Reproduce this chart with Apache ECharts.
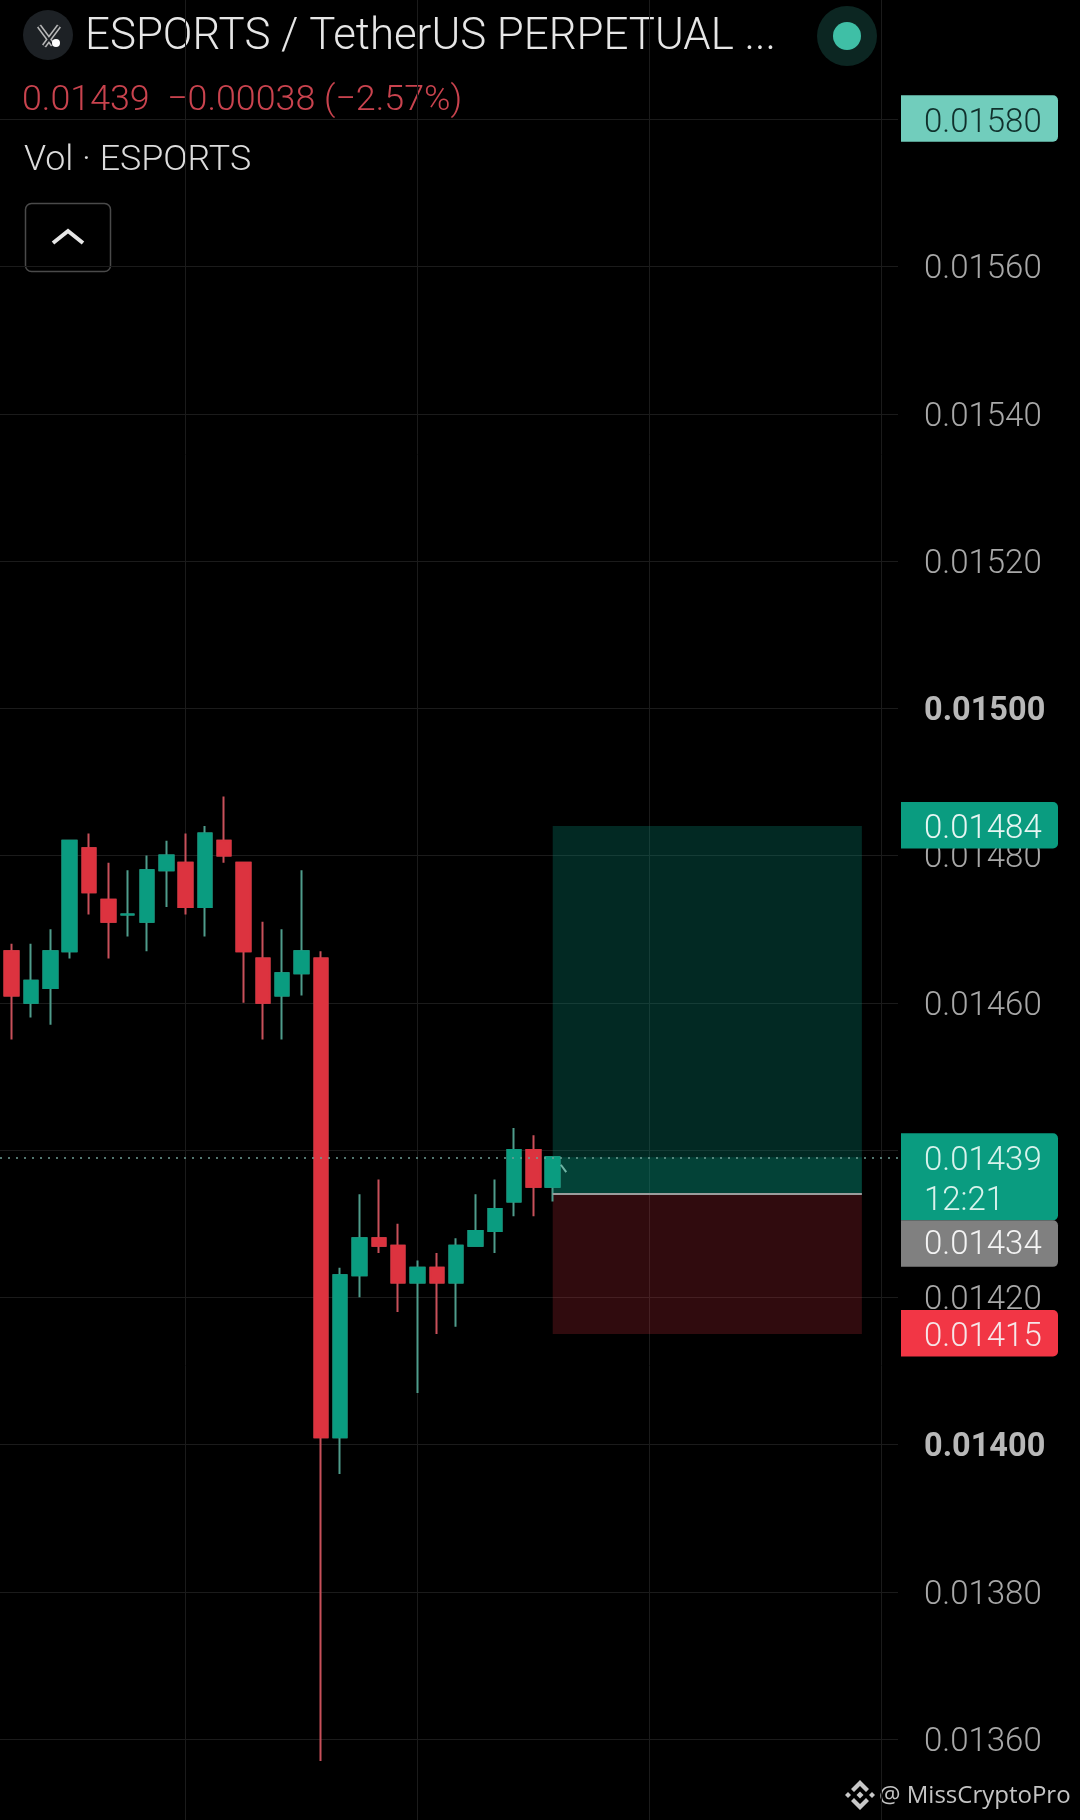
<!DOCTYPE html>
<html><head><meta charset="utf-8">
<style>html,body{margin:0;padding:0;background:#000}#c{width:1080px;height:1820px}</style>
<script src="https://cdn.jsdelivr.net/npm/echarts@6/dist/echarts.min.js"></script>
</head><body><div id="c"></div>
<script>
// Candles
const opens  = [0.01467,0.01460,0.01462,0.01467,0.01481,0.01474,0.01472,0.01471,0.01478,0.01479,0.01473,0.01482,0.01479,0.01466,0.01461,0.01464,0.01466,0.01401,0.01423,0.01428,0.01427,0.01422,0.01424,0.01422,0.01427,0.01429,0.01433,0.01440,0.01435];
const closes = [0.01461,0.01463,0.01467,0.01482,0.01475,0.01471,0.01472,0.01478,0.01480,0.01473,0.01483,0.01480,0.01467,0.01460,0.01464,0.01467,0.01401,0.01423,0.01428,0.01427,0.01422,0.01424,0.01422,0.01427,0.01429,0.01432,0.01440,0.01435,0.01439];
const lows   = [0.01455,0.01458,0.01457,0.01466,0.01472,0.01466,0.01469,0.01467,0.01473,0.01472,0.01469,0.01479,0.01460,0.01455,0.01455,0.01461,0.01357,0.01396,0.01420,0.01426,0.01418,0.01407,0.01415,0.01416,0.01427,0.01426,0.01431,0.01431,0.01433];
const highs  = [0.01468,0.01468,0.01470,0.01482,0.01483,0.01479,0.01478,0.01480,0.01482,0.01483,0.01484,0.01488,0.01479,0.01471,0.01470,0.01478,0.01467,0.01424,0.01434,0.01436,0.01430,0.01425,0.01426,0.01428,0.01434,0.01436,0.01443,0.01442,0.01439];

// Position tool
const zoneFrom = 28, zoneTo = 44;
const zoneLows  = [0.01434,0.01434,0.01415];
const zoneHighs = [0.01484,0.01439,0.01434];
const zoneFills = ['rgba(8,153,129,0.27)','rgba(8,153,129,0.22)','rgba(242,54,69,0.20)'];
const entryPrice = 0.01434, lastPrice = 0.01439;

// Price badges
const badgePrices = [0.01580,0.01484,0.01439,0.01434,0.01415];
const badgeTexts  = ['0.01580','0.01484','0.01439','0.01434','0.01415'];
const badgeSub    = ['','','12:21','',''];
const badgeFills  = ['#71cdbc','#0a9c80','#0a9c80','#808080','#f23645'];
const badgeInk    = ['#10302c','#e8f6f3','#d8f3ec','#f4f4f4','#f6e6e8'];

// Axis
const xMin = -0.6056, xMax = 45.87;
const yMin = 0.0134, yMax = 0.016, yStep = 0.0002;
const gridColumns = [9,21,33,45];
const UP = '#0a9c80', DOWN = '#dc333f', UP_WICK = '#4f9c8b', DOWN_WICK = '#c8505a', GRID = '#1b1b1b';

const wickRows = opens.map((o,i)=>[i,o,closes[i],lows[i],highs[i]]);
const bodyRows = opens.map((o,i)=>[i,o,closes[i],Math.min(o,closes[i]),Math.max(o,closes[i])]);
const zoneRows = zoneLows.map((l,i)=>[zoneFrom,l,zoneTo,zoneHighs[i]]);
const badgeRows = badgePrices.map((p,i)=>[zoneTo,p]);

let lastBottom = 0;
function drawBadge(params, api){
  const i = params.dataIndex;
  const y = api.coord([api.value(0), api.value(1)])[1];
  const h = badgeSub[i] ? 87 : 46.5;
  const pushed = i>0 && y-24 < lastBottom;
  const top = pushed ? lastBottom : y-24;
  lastBottom = top+h;
  const textY = top + (pushed ? 25 : 28);
  const kids = [
    {type:'rect',shape:{x:901,y:top,width:157,height:h,r:[0,5,5,0]},style:{fill:badgeFills[i]}},
    {type:'text',style:{x:924,y:textY,text:badgeTexts[i],fill:badgeInk[i],font:'300 33px Roboto',align:'left',verticalAlign:'middle'}}
  ];
  if(badgeSub[i]) kids.push({type:'text',style:{x:924,y:top+68,text:badgeSub[i],fill:badgeInk[i],font:'300 33px Roboto',align:'left',verticalAlign:'middle'}});
  return {type:'group',children:kids};
}
function drawZone(params, api){
  const a = api.coord([api.value(0), api.value(3)]);
  const b = api.coord([api.value(2), api.value(1)]);
  return {type:'rect',shape:{x:a[0],y:a[1],width:b[0]-a[0],height:b[1]-a[1]},style:{fill:zoneFills[params.dataIndex]}};
}

const chart = echarts.init(document.getElementById('c'),null,{renderer:'canvas'});
const diamond = (cx,cy,r)=>[[cx,cy-r],[cx+r,cy],[cx,cy+r],[cx-r,cy]];
chart.setOption({
  animation:false,
  backgroundColor:'#000',
  grid:{left:0,top:-28,width:898,height:1914.25,containLabel:false,outerBoundsMode:'none'},
  xAxis:{type:'value',min:xMin,max:xMax,axisLine:{show:false},axisTick:{show:false},axisLabel:{show:false},splitLine:{show:false}},
  yAxis:{type:'value',position:'right',min:yMin,max:yMax,interval:yStep,
    axisLine:{show:false},axisTick:{show:false},
    splitLine:{show:true,lineStyle:{color:GRID,width:1}},
    axisLabel:{margin:26,
      formatter:v=>{const s=v.toFixed(5);return Math.round(v*1e5)%100===0?'{b|'+s+'}':'{n|'+s+'}';},
      rich:{n:{fontFamily:'Roboto',fontWeight:300,fontSize:33,color:'#a8a8a8',padding:[7,0,0,0]},b:{fontFamily:'Roboto',fontWeight:700,fontSize:32.5,color:'#b8b8b8',padding:[7,0,0,0]}}}},
  series:[
    {type:'custom',name:'zones',z:2,data:zoneRows,renderItem:drawZone,encode:{x:[0,2],y:[1,3]},silent:true,
      markLine:{silent:true,z:1,symbol:'none',label:{show:false},lineStyle:{color:GRID,width:1,type:'solid'},
        data:gridColumns.map(c=>({xAxis:c}))}},
    {type:'candlestick',name:'wicks',z:3,data:wickRows,encode:{x:0,y:[1,2,3,4]},barWidth:14,
      itemStyle:{color:UP_WICK,color0:DOWN_WICK,borderColor:UP_WICK,borderColor0:DOWN_WICK,borderWidth:2}},
    {type:'candlestick',name:'ESPORTS',z:3,data:bodyRows,encode:{x:0,y:[1,2,3,4]},barWidth:14,
      itemStyle:{color:UP,color0:DOWN,borderColor:UP,borderColor0:DOWN,borderWidth:2},
      markLine:{silent:true,z:4,symbol:'none',label:{show:false},
        data:[
          [{coord:[xMin,lastPrice],lineStyle:{color:'#6f9f95',width:1.6,type:[2,6]}},{coord:[xMax,lastPrice]}],
          [{coord:[zoneFrom,entryPrice],lineStyle:{color:'#9c9c9c',width:2,type:'solid'}},{coord:[zoneTo,entryPrice]}],
          [{coord:[28.42,0.01438],lineStyle:{color:'#6fb5a5',width:2,type:'solid'}},{coord:[28.7,0.01437]}]
        ]}},
    {type:'custom',name:'badges',z:10,data:badgeRows,renderItem:drawBadge,encode:{x:0,y:1},silent:true}
  ],
  graphic:[
    {type:'circle',shape:{cx:48,cy:35,r:25},style:{fill:'#1d2125'}},
    {type:'line',shape:{x1:39,y1:26,x2:53,y2:45},style:{stroke:'#b8b8b8',lineWidth:5}},
    {type:'line',shape:{x1:59,y1:26,x2:44,y2:46},style:{stroke:'#b8b8b8',lineWidth:5}},
    {type:'line',shape:{x1:39,y1:26,x2:53,y2:45},style:{stroke:'#1d2125',lineWidth:2}},
    {type:'line',shape:{x1:59,y1:26,x2:44,y2:46},style:{stroke:'#1d2125',lineWidth:2}},
    {type:'circle',shape:{cx:56,cy:43,r:4},style:{fill:'#fff'}},
    {type:'text',style:{x:85,y:38.5,text:'ESPORTS / TetherUS PERPETUAL ...',fill:'#e6e6e6',font:'300 43.8px Roboto',align:'left',verticalAlign:'middle'}},
    {type:'circle',shape:{cx:847,cy:36,r:30},style:{fill:'#0c2622'}},
    {type:'circle',shape:{cx:847,cy:36,r:14},style:{fill:'#3fbfa6'}},
    {type:'text',style:{x:22,y:101.5,text:'0.01439  \u22120.00038 (\u22122.57%)',fill:'#c9434e',font:'300 35.8px Roboto',align:'left',verticalAlign:'middle'}},
    {type:'text',style:{x:24,y:161.5,text:'Vol \u00b7 ESPORTS',fill:'#dcdcdc',font:'300 35.8px Roboto',align:'left',verticalAlign:'middle'}},
    {type:'rect',shape:{x:25.5,y:203.5,width:85,height:68,r:6},style:{fill:'#000',stroke:'#4a4a4a',lineWidth:1.5}},
    {type:'polyline',shape:{points:[[53,243],[68,231],[83,243]]},style:{stroke:'#e6e6e6',fill:null,lineWidth:4}},
    {type:'polygon',shape:{points:[[860,1780],[869,1789],[866,1792],[860,1786],[854,1792],[851,1789]]},style:{fill:'#c8c8c8'}},
    {type:'polygon',shape:{points:[[860,1810],[869,1801],[866,1798],[860,1804],[854,1798],[851,1801]]},style:{fill:'#c8c8c8'}},
    {type:'polygon',shape:{points:diamond(848,1795,3)},style:{fill:'#c8c8c8'}},
    {type:'polygon',shape:{points:diamond(872,1795,3)},style:{fill:'#c8c8c8'}},
    {type:'polygon',shape:{points:diamond(860,1795,3.5)},style:{fill:'#c8c8c8'}},
    {type:'text',style:{x:879,y:1796,text:'@ MissCryptoPro',fill:'#c4c4c4',font:'400 24px "Open Sans"',align:'left',verticalAlign:'middle'}}
  ]
});
</script></body></html>
